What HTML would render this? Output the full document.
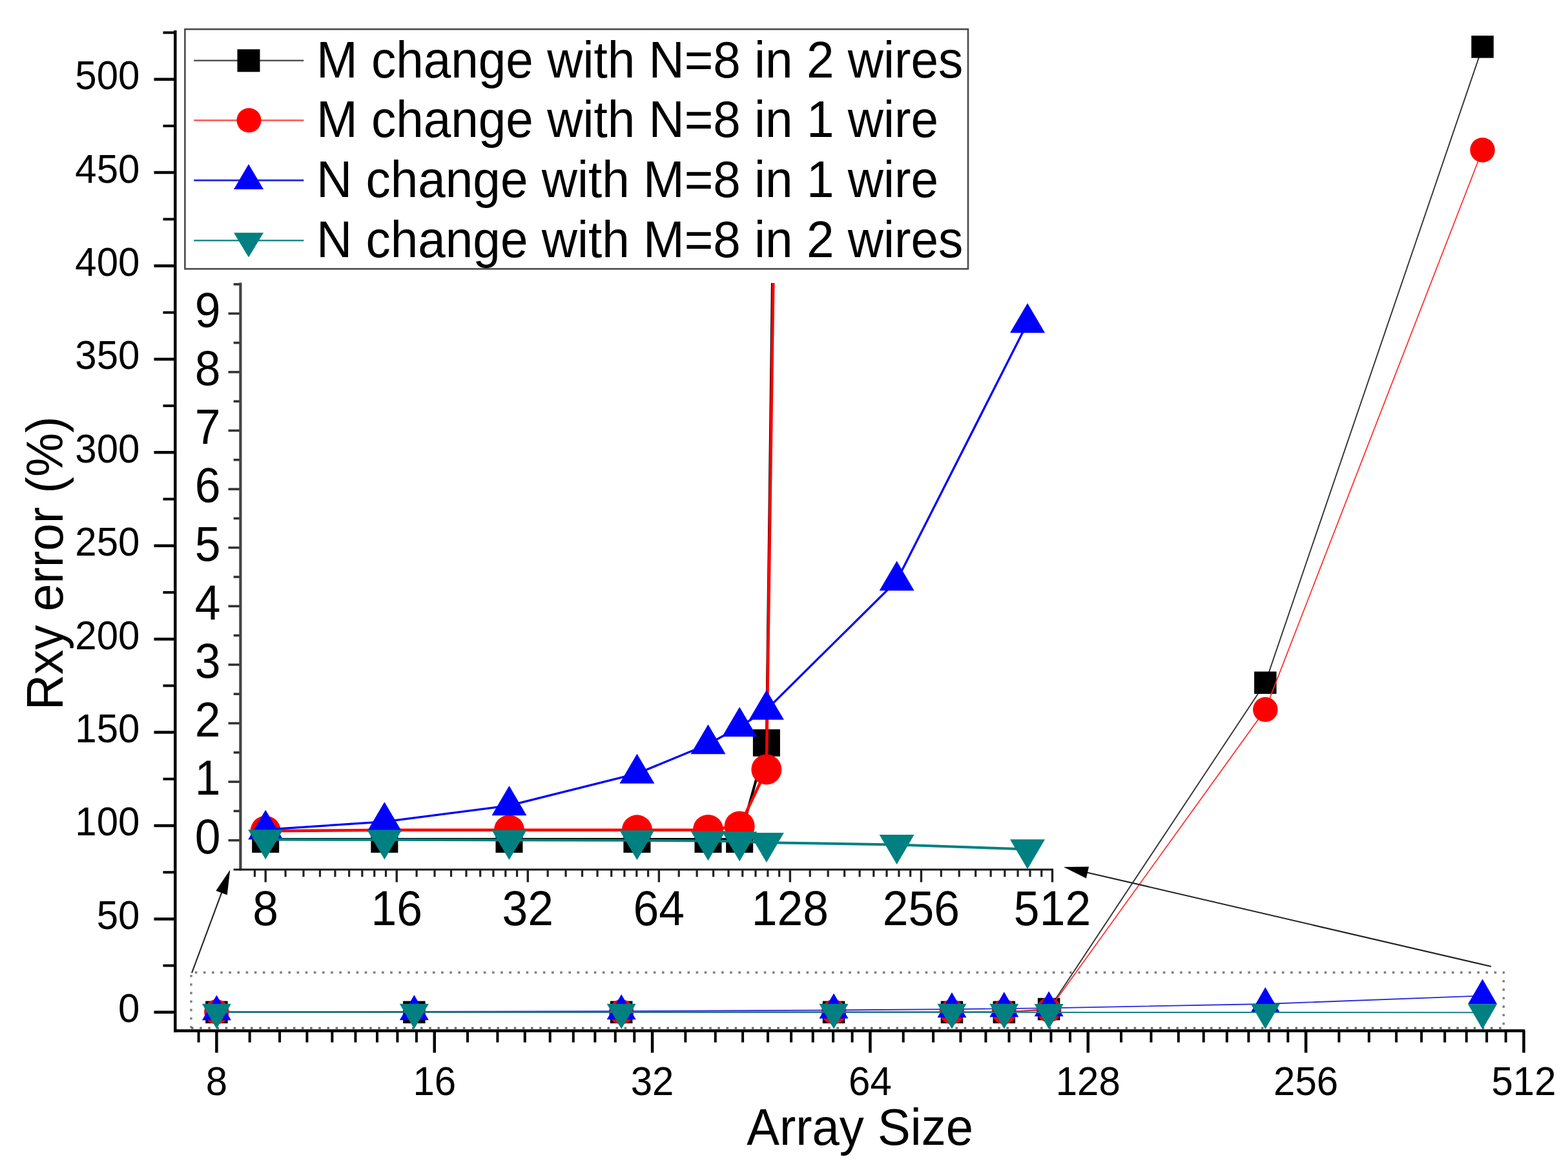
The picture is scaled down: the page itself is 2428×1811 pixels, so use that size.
<!DOCTYPE html>
<html><head><meta charset="utf-8"><title>Rxy error vs Array Size</title>
<style>html,body{margin:0;padding:0;background:#fff;}body{width:2428px;height:1811px;overflow:hidden;}svg{display:block;}text{font-family:"Liberation Sans", Arial, sans-serif;fill:#000;}</style>
</head><body>
<svg width="2428" height="1811" viewBox="0 0 2428 1811">
<rect width="2428" height="1811" fill="#fff"/>
<defs><clipPath id="ic"><rect x="374" y="438" width="1258" height="906"/></clipPath></defs>
<line x1="238.5" y1="1566.8" x2="271.3" y2="1566.8" stroke="#000" stroke-width="4.5"/>
<line x1="238.5" y1="1422.39" x2="271.3" y2="1422.39" stroke="#000" stroke-width="4.5"/>
<line x1="238.5" y1="1277.98" x2="271.3" y2="1277.98" stroke="#000" stroke-width="4.5"/>
<line x1="238.5" y1="1133.57" x2="271.3" y2="1133.57" stroke="#000" stroke-width="4.5"/>
<line x1="238.5" y1="989.16" x2="271.3" y2="989.16" stroke="#000" stroke-width="4.5"/>
<line x1="238.5" y1="844.75" x2="271.3" y2="844.75" stroke="#000" stroke-width="4.5"/>
<line x1="238.5" y1="700.34" x2="271.3" y2="700.34" stroke="#000" stroke-width="4.5"/>
<line x1="238.5" y1="555.93" x2="271.3" y2="555.93" stroke="#000" stroke-width="4.5"/>
<line x1="238.5" y1="411.52" x2="271.3" y2="411.52" stroke="#000" stroke-width="4.5"/>
<line x1="238.5" y1="267.11" x2="271.3" y2="267.11" stroke="#000" stroke-width="4.5"/>
<line x1="238.5" y1="122.7" x2="271.3" y2="122.7" stroke="#000" stroke-width="4.5"/>
<line x1="252.5" y1="1494.6" x2="271.3" y2="1494.6" stroke="#000" stroke-width="4"/>
<line x1="252.5" y1="1350.18" x2="271.3" y2="1350.18" stroke="#000" stroke-width="4"/>
<line x1="252.5" y1="1205.78" x2="271.3" y2="1205.78" stroke="#000" stroke-width="4"/>
<line x1="252.5" y1="1061.37" x2="271.3" y2="1061.37" stroke="#000" stroke-width="4"/>
<line x1="252.5" y1="916.95" x2="271.3" y2="916.95" stroke="#000" stroke-width="4"/>
<line x1="252.5" y1="772.54" x2="271.3" y2="772.54" stroke="#000" stroke-width="4"/>
<line x1="252.5" y1="628.13" x2="271.3" y2="628.13" stroke="#000" stroke-width="4"/>
<line x1="252.5" y1="483.72" x2="271.3" y2="483.72" stroke="#000" stroke-width="4"/>
<line x1="252.5" y1="339.32" x2="271.3" y2="339.32" stroke="#000" stroke-width="4"/>
<line x1="252.5" y1="194.9" x2="271.3" y2="194.9" stroke="#000" stroke-width="4"/>
<line x1="252.5" y1="50.5" x2="271.3" y2="50.5" stroke="#000" stroke-width="4"/>
<line x1="335.4" y1="1595.5" x2="335.4" y2="1629.5" stroke="#000" stroke-width="4.5"/>
<line x1="672.75" y1="1595.5" x2="672.75" y2="1629.5" stroke="#000" stroke-width="4.5"/>
<line x1="1010.1" y1="1595.5" x2="1010.1" y2="1629.5" stroke="#000" stroke-width="4.5"/>
<line x1="1347.45" y1="1595.5" x2="1347.45" y2="1629.5" stroke="#000" stroke-width="4.5"/>
<line x1="1684.8" y1="1595.5" x2="1684.8" y2="1629.5" stroke="#000" stroke-width="4.5"/>
<line x1="2022.15" y1="1595.5" x2="2022.15" y2="1629.5" stroke="#000" stroke-width="4.5"/>
<line x1="2359.5" y1="1595.5" x2="2359.5" y2="1629.5" stroke="#000" stroke-width="4.5"/>
<line x1="307.58" y1="1595.5" x2="307.58" y2="1613.5" stroke="#000" stroke-width="4"/>
<line x1="386.68" y1="1595.5" x2="386.68" y2="1613.5" stroke="#000" stroke-width="4"/>
<line x1="433.07" y1="1595.5" x2="433.07" y2="1613.5" stroke="#000" stroke-width="4"/>
<line x1="475.41" y1="1595.5" x2="475.41" y2="1613.5" stroke="#000" stroke-width="4"/>
<line x1="514.37" y1="1595.5" x2="514.37" y2="1613.5" stroke="#000" stroke-width="4"/>
<line x1="550.44" y1="1595.5" x2="550.44" y2="1613.5" stroke="#000" stroke-width="4"/>
<line x1="584.02" y1="1595.5" x2="584.02" y2="1613.5" stroke="#000" stroke-width="4"/>
<line x1="615.43" y1="1595.5" x2="615.43" y2="1613.5" stroke="#000" stroke-width="4"/>
<line x1="644.93" y1="1595.5" x2="644.93" y2="1613.5" stroke="#000" stroke-width="4"/>
<line x1="724.03" y1="1595.5" x2="724.03" y2="1613.5" stroke="#000" stroke-width="4"/>
<line x1="770.42" y1="1595.5" x2="770.42" y2="1613.5" stroke="#000" stroke-width="4"/>
<line x1="812.76" y1="1595.5" x2="812.76" y2="1613.5" stroke="#000" stroke-width="4"/>
<line x1="851.72" y1="1595.5" x2="851.72" y2="1613.5" stroke="#000" stroke-width="4"/>
<line x1="887.79" y1="1595.5" x2="887.79" y2="1613.5" stroke="#000" stroke-width="4"/>
<line x1="921.37" y1="1595.5" x2="921.37" y2="1613.5" stroke="#000" stroke-width="4"/>
<line x1="952.78" y1="1595.5" x2="952.78" y2="1613.5" stroke="#000" stroke-width="4"/>
<line x1="982.28" y1="1595.5" x2="982.28" y2="1613.5" stroke="#000" stroke-width="4"/>
<line x1="1061.38" y1="1595.5" x2="1061.38" y2="1613.5" stroke="#000" stroke-width="4"/>
<line x1="1107.77" y1="1595.5" x2="1107.77" y2="1613.5" stroke="#000" stroke-width="4"/>
<line x1="1150.11" y1="1595.5" x2="1150.11" y2="1613.5" stroke="#000" stroke-width="4"/>
<line x1="1189.07" y1="1595.5" x2="1189.07" y2="1613.5" stroke="#000" stroke-width="4"/>
<line x1="1225.14" y1="1595.5" x2="1225.14" y2="1613.5" stroke="#000" stroke-width="4"/>
<line x1="1258.72" y1="1595.5" x2="1258.72" y2="1613.5" stroke="#000" stroke-width="4"/>
<line x1="1290.13" y1="1595.5" x2="1290.13" y2="1613.5" stroke="#000" stroke-width="4"/>
<line x1="1319.63" y1="1595.5" x2="1319.63" y2="1613.5" stroke="#000" stroke-width="4"/>
<line x1="1398.73" y1="1595.5" x2="1398.73" y2="1613.5" stroke="#000" stroke-width="4"/>
<line x1="1445.12" y1="1595.5" x2="1445.12" y2="1613.5" stroke="#000" stroke-width="4"/>
<line x1="1487.46" y1="1595.5" x2="1487.46" y2="1613.5" stroke="#000" stroke-width="4"/>
<line x1="1526.42" y1="1595.5" x2="1526.42" y2="1613.5" stroke="#000" stroke-width="4"/>
<line x1="1562.49" y1="1595.5" x2="1562.49" y2="1613.5" stroke="#000" stroke-width="4"/>
<line x1="1596.07" y1="1595.5" x2="1596.07" y2="1613.5" stroke="#000" stroke-width="4"/>
<line x1="1627.48" y1="1595.5" x2="1627.48" y2="1613.5" stroke="#000" stroke-width="4"/>
<line x1="1656.98" y1="1595.5" x2="1656.98" y2="1613.5" stroke="#000" stroke-width="4"/>
<line x1="1736.08" y1="1595.5" x2="1736.08" y2="1613.5" stroke="#000" stroke-width="4"/>
<line x1="1782.47" y1="1595.5" x2="1782.47" y2="1613.5" stroke="#000" stroke-width="4"/>
<line x1="1824.81" y1="1595.5" x2="1824.81" y2="1613.5" stroke="#000" stroke-width="4"/>
<line x1="1863.77" y1="1595.5" x2="1863.77" y2="1613.5" stroke="#000" stroke-width="4"/>
<line x1="1899.84" y1="1595.5" x2="1899.84" y2="1613.5" stroke="#000" stroke-width="4"/>
<line x1="1933.42" y1="1595.5" x2="1933.42" y2="1613.5" stroke="#000" stroke-width="4"/>
<line x1="1964.83" y1="1595.5" x2="1964.83" y2="1613.5" stroke="#000" stroke-width="4"/>
<line x1="1994.33" y1="1595.5" x2="1994.33" y2="1613.5" stroke="#000" stroke-width="4"/>
<line x1="2073.43" y1="1595.5" x2="2073.43" y2="1613.5" stroke="#000" stroke-width="4"/>
<line x1="2119.82" y1="1595.5" x2="2119.82" y2="1613.5" stroke="#000" stroke-width="4"/>
<line x1="2162.16" y1="1595.5" x2="2162.16" y2="1613.5" stroke="#000" stroke-width="4"/>
<line x1="2201.12" y1="1595.5" x2="2201.12" y2="1613.5" stroke="#000" stroke-width="4"/>
<line x1="2237.19" y1="1595.5" x2="2237.19" y2="1613.5" stroke="#000" stroke-width="4"/>
<line x1="2270.77" y1="1595.5" x2="2270.77" y2="1613.5" stroke="#000" stroke-width="4"/>
<line x1="2302.18" y1="1595.5" x2="2302.18" y2="1613.5" stroke="#000" stroke-width="4"/>
<line x1="2331.68" y1="1595.5" x2="2331.68" y2="1613.5" stroke="#000" stroke-width="4"/>
<line x1="271.3" y1="47" x2="271.3" y2="1597.7" stroke="#000" stroke-width="4.5"/>
<line x1="269" y1="1595.5" x2="2361.3" y2="1595.5" stroke="#000" stroke-width="4.5"/>
<g font-size="60">
<text transform="translate(216.4 1582.2) scale(1 1.058)" text-anchor="end">0</text>
<text transform="translate(216.4 1437.79) scale(1 1.058)" text-anchor="end">50</text>
<text transform="translate(216.4 1293.38) scale(1 1.058)" text-anchor="end">100</text>
<text transform="translate(216.4 1148.97) scale(1 1.058)" text-anchor="end">150</text>
<text transform="translate(216.4 1004.56) scale(1 1.058)" text-anchor="end">200</text>
<text transform="translate(216.4 860.15) scale(1 1.058)" text-anchor="end">250</text>
<text transform="translate(216.4 715.74) scale(1 1.058)" text-anchor="end">300</text>
<text transform="translate(216.4 571.33) scale(1 1.058)" text-anchor="end">350</text>
<text transform="translate(216.4 426.92) scale(1 1.058)" text-anchor="end">400</text>
<text transform="translate(216.4 282.51) scale(1 1.058)" text-anchor="end">450</text>
<text transform="translate(216.4 138.1) scale(1 1.058)" text-anchor="end">500</text>
<text transform="translate(335.4 1695.2) scale(1 1.058)" text-anchor="middle">8</text>
<text transform="translate(672.75 1695.2) scale(1 1.058)" text-anchor="middle">16</text>
<text transform="translate(1010.1 1695.2) scale(1 1.058)" text-anchor="middle">32</text>
<text transform="translate(1347.45 1695.2) scale(1 1.058)" text-anchor="middle">64</text>
<text transform="translate(1684.8 1695.2) scale(1 1.058)" text-anchor="middle">128</text>
<text transform="translate(2022.15 1695.2) scale(1 1.058)" text-anchor="middle">256</text>
<text transform="translate(2359.5 1695.2) scale(1 1.058)" text-anchor="middle">512</text>
</g>
<text transform="translate(1331.6 1771.6) scale(1 1.04)" font-size="76.1" text-anchor="middle">Array Size</text>
<text transform="translate(96.7 871.8) rotate(-90) scale(1 1.035)" font-size="76.5" text-anchor="middle">Rxy error (%)</text>
<path d="M296 1591.5 V1505.2 H2328.3 V1591.5" fill="none" stroke="#808080" stroke-width="3.4" stroke-dasharray="3.6 9.55"/>
<path d="M296 1591.2 H2328.3" fill="none" stroke="#666" stroke-width="3" stroke-dasharray="3.6 9.55"/>
<polyline points="335.4,1566.74 641.34,1566.74 962.19,1566.74 1291.08,1566.74 1473.97,1566.74 1554.82,1566.74 1624.14,1561.99 1959.33,1056.74 2295.6,72.45" fill="none" stroke="#333" stroke-width="1.9" stroke-linejoin="round"/>
<rect x="318.15" y="1549.49" width="34.5" height="34.5" fill="#000000"/>
<rect x="624.09" y="1549.49" width="34.5" height="34.5" fill="#000000"/>
<rect x="944.94" y="1549.49" width="34.5" height="34.5" fill="#000000"/>
<rect x="1273.83" y="1549.49" width="34.5" height="34.5" fill="#000000"/>
<rect x="1456.72" y="1549.49" width="34.5" height="34.5" fill="#000000"/>
<rect x="1537.57" y="1549.49" width="34.5" height="34.5" fill="#000000"/>
<rect x="1606.89" y="1544.74" width="34.5" height="34.5" fill="#000000"/>
<rect x="1942.08" y="1039.49" width="34.5" height="34.5" fill="#000000"/>
<rect x="2278.35" y="55.2" width="34.5" height="34.5" fill="#000000"/>
<polyline points="335.4,1566.34 641.34,1566.29 962.19,1566.29 1291.08,1566.29 1473.97,1566.28 1554.82,1566.11 1624.14,1563.31 1959.33,1098.33 2295.6,232.16" fill="none" stroke="#ff2a2a" stroke-width="1.7" stroke-linejoin="round"/>
<circle cx="335.4" cy="1566.34" r="19.25" fill="#ff0000"/>
<circle cx="962.19" cy="1566.29" r="19.25" fill="#ff0000"/>
<circle cx="1291.08" cy="1566.29" r="19.25" fill="#ff0000"/>
<circle cx="1473.97" cy="1566.28" r="19.25" fill="#ff0000"/>
<circle cx="1554.82" cy="1566.11" r="19.25" fill="#ff0000"/>
<circle cx="1624.14" cy="1563.31" r="19.25" fill="#ff0000"/>
<circle cx="1959.33" cy="1098.33" r="19.25" fill="#ff0000"/>
<circle cx="2295.6" cy="232.16" r="19.25" fill="#ff0000"/>
<polyline points="335.4,1566.27 641.34,1565.88 962.19,1565.08 1291.08,1563.51 1473.97,1562.06 1554.82,1561.2 1624.14,1560.36 1959.33,1553.99 2295.6,1541.27" fill="none" stroke="#2a2ae0" stroke-width="1.8" stroke-linejoin="round"/>
<polygon points="335.4,1540.27 357.9,1579.27 312.9,1579.27" fill="#0000ff"/>
<polygon points="641.34,1539.88 663.84,1578.88 618.84,1578.88" fill="#0000ff"/>
<polygon points="962.19,1539.08 984.69,1578.08 939.69,1578.08" fill="#0000ff"/>
<polygon points="1291.08,1537.51 1313.58,1576.51 1268.58,1576.51" fill="#0000ff"/>
<polygon points="1473.97,1536.06 1496.47,1575.06 1451.47,1575.06" fill="#0000ff"/>
<polygon points="1554.82,1535.2 1577.32,1574.2 1532.32,1574.2" fill="#0000ff"/>
<polygon points="1624.14,1534.36 1646.64,1573.36 1601.64,1573.36" fill="#0000ff"/>
<polygon points="1959.33,1527.99 1981.83,1566.99 1936.83,1566.99" fill="#0000ff"/>
<polygon points="2295.6,1515.27 2318.1,1554.27 2273.1,1554.27" fill="#0000ff"/>
<polyline points="335.4,1566.77 641.34,1566.77 962.19,1566.79 1291.08,1566.8 1473.97,1566.83 1554.82,1566.86 1624.14,1566.92 1959.33,1567.01 2295.6,1567.24" fill="none" stroke="#1a7f8a" stroke-width="2" stroke-linejoin="round"/>
<polygon points="312.9,1553.77 357.9,1553.77 335.4,1592.77" fill="#008080"/>
<polygon points="618.84,1553.77 663.84,1553.77 641.34,1592.77" fill="#008080"/>
<polygon points="939.69,1553.79 984.69,1553.79 962.19,1592.79" fill="#008080"/>
<polygon points="1268.58,1553.8 1313.58,1553.8 1291.08,1592.8" fill="#008080"/>
<polygon points="1451.47,1553.83 1496.47,1553.83 1473.97,1592.83" fill="#008080"/>
<polygon points="1532.32,1553.86 1577.32,1553.86 1554.82,1592.86" fill="#008080"/>
<polygon points="1601.64,1553.92 1646.64,1553.92 1624.14,1592.92" fill="#008080"/>
<polygon points="1936.83,1554.01 1981.83,1554.01 1959.33,1593.01" fill="#008080"/>
<polygon points="2273.1,1554.24 2318.1,1554.24 2295.6,1593.24" fill="#008080"/>
<line x1="297" y1="1506" x2="343.77" y2="1380.05" stroke="#222" stroke-width="2.1"/><polygon points="356.3,1346.3 351.74,1385.14 334.4,1378.7" fill="#000"/>
<line x1="2309" y1="1496" x2="1682.06" y2="1350.16" stroke="#222" stroke-width="2.1"/><polygon points="1647,1342 1686.11,1341.6 1681.92,1359.62" fill="#000"/>
<line x1="353.5" y1="1300.7" x2="372.4" y2="1300.7" stroke="#333" stroke-width="3.6"/>
<line x1="353.5" y1="1210.1" x2="372.4" y2="1210.1" stroke="#333" stroke-width="3.6"/>
<line x1="353.5" y1="1119.5" x2="372.4" y2="1119.5" stroke="#333" stroke-width="3.6"/>
<line x1="353.5" y1="1028.9" x2="372.4" y2="1028.9" stroke="#333" stroke-width="3.6"/>
<line x1="353.5" y1="938.3" x2="372.4" y2="938.3" stroke="#333" stroke-width="3.6"/>
<line x1="353.5" y1="847.7" x2="372.4" y2="847.7" stroke="#333" stroke-width="3.6"/>
<line x1="353.5" y1="757.1" x2="372.4" y2="757.1" stroke="#333" stroke-width="3.6"/>
<line x1="353.5" y1="666.5" x2="372.4" y2="666.5" stroke="#333" stroke-width="3.6"/>
<line x1="353.5" y1="575.9" x2="372.4" y2="575.9" stroke="#333" stroke-width="3.6"/>
<line x1="353.5" y1="485.3" x2="372.4" y2="485.3" stroke="#333" stroke-width="3.6"/>
<line x1="361.7" y1="1255.4" x2="372.4" y2="1255.4" stroke="#333" stroke-width="3.6"/>
<line x1="361.7" y1="1164.8" x2="372.4" y2="1164.8" stroke="#333" stroke-width="3.6"/>
<line x1="361.7" y1="1074.2" x2="372.4" y2="1074.2" stroke="#333" stroke-width="3.6"/>
<line x1="361.7" y1="983.6" x2="372.4" y2="983.6" stroke="#333" stroke-width="3.6"/>
<line x1="361.7" y1="893" x2="372.4" y2="893" stroke="#333" stroke-width="3.6"/>
<line x1="361.7" y1="802.4" x2="372.4" y2="802.4" stroke="#333" stroke-width="3.6"/>
<line x1="361.7" y1="711.8" x2="372.4" y2="711.8" stroke="#333" stroke-width="3.6"/>
<line x1="361.7" y1="621.2" x2="372.4" y2="621.2" stroke="#333" stroke-width="3.6"/>
<line x1="361.7" y1="530.6" x2="372.4" y2="530.6" stroke="#333" stroke-width="3.6"/>
<line x1="361.7" y1="440" x2="372.4" y2="440" stroke="#333" stroke-width="3.6"/>
<line x1="411.2" y1="1346" x2="411.2" y2="1365.5" stroke="#222" stroke-width="3.4"/>
<line x1="614.25" y1="1346" x2="614.25" y2="1365.5" stroke="#222" stroke-width="3.4"/>
<line x1="817.3" y1="1346" x2="817.3" y2="1365.5" stroke="#222" stroke-width="3.4"/>
<line x1="1020.35" y1="1346" x2="1020.35" y2="1365.5" stroke="#222" stroke-width="3.4"/>
<line x1="1223.4" y1="1346" x2="1223.4" y2="1365.5" stroke="#222" stroke-width="3.4"/>
<line x1="1426.45" y1="1346" x2="1426.45" y2="1365.5" stroke="#222" stroke-width="3.4"/>
<line x1="1629.5" y1="1346" x2="1629.5" y2="1365.5" stroke="#222" stroke-width="3.4"/>
<line x1="394.46" y1="1346" x2="394.46" y2="1357.3" stroke="#222" stroke-width="3.2"/>
<line x1="442.06" y1="1346" x2="442.06" y2="1357.3" stroke="#222" stroke-width="3.2"/>
<line x1="469.98" y1="1346" x2="469.98" y2="1357.3" stroke="#222" stroke-width="3.2"/>
<line x1="495.47" y1="1346" x2="495.47" y2="1357.3" stroke="#222" stroke-width="3.2"/>
<line x1="518.92" y1="1346" x2="518.92" y2="1357.3" stroke="#222" stroke-width="3.2"/>
<line x1="540.63" y1="1346" x2="540.63" y2="1357.3" stroke="#222" stroke-width="3.2"/>
<line x1="560.84" y1="1346" x2="560.84" y2="1357.3" stroke="#222" stroke-width="3.2"/>
<line x1="579.75" y1="1346" x2="579.75" y2="1357.3" stroke="#222" stroke-width="3.2"/>
<line x1="597.51" y1="1346" x2="597.51" y2="1357.3" stroke="#222" stroke-width="3.2"/>
<line x1="645.11" y1="1346" x2="645.11" y2="1357.3" stroke="#222" stroke-width="3.2"/>
<line x1="673.03" y1="1346" x2="673.03" y2="1357.3" stroke="#222" stroke-width="3.2"/>
<line x1="698.52" y1="1346" x2="698.52" y2="1357.3" stroke="#222" stroke-width="3.2"/>
<line x1="721.97" y1="1346" x2="721.97" y2="1357.3" stroke="#222" stroke-width="3.2"/>
<line x1="743.68" y1="1346" x2="743.68" y2="1357.3" stroke="#222" stroke-width="3.2"/>
<line x1="763.89" y1="1346" x2="763.89" y2="1357.3" stroke="#222" stroke-width="3.2"/>
<line x1="782.8" y1="1346" x2="782.8" y2="1357.3" stroke="#222" stroke-width="3.2"/>
<line x1="800.56" y1="1346" x2="800.56" y2="1357.3" stroke="#222" stroke-width="3.2"/>
<line x1="848.16" y1="1346" x2="848.16" y2="1357.3" stroke="#222" stroke-width="3.2"/>
<line x1="876.08" y1="1346" x2="876.08" y2="1357.3" stroke="#222" stroke-width="3.2"/>
<line x1="901.57" y1="1346" x2="901.57" y2="1357.3" stroke="#222" stroke-width="3.2"/>
<line x1="925.02" y1="1346" x2="925.02" y2="1357.3" stroke="#222" stroke-width="3.2"/>
<line x1="946.73" y1="1346" x2="946.73" y2="1357.3" stroke="#222" stroke-width="3.2"/>
<line x1="966.94" y1="1346" x2="966.94" y2="1357.3" stroke="#222" stroke-width="3.2"/>
<line x1="985.85" y1="1346" x2="985.85" y2="1357.3" stroke="#222" stroke-width="3.2"/>
<line x1="1003.61" y1="1346" x2="1003.61" y2="1357.3" stroke="#222" stroke-width="3.2"/>
<line x1="1051.21" y1="1346" x2="1051.21" y2="1357.3" stroke="#222" stroke-width="3.2"/>
<line x1="1079.13" y1="1346" x2="1079.13" y2="1357.3" stroke="#222" stroke-width="3.2"/>
<line x1="1104.62" y1="1346" x2="1104.62" y2="1357.3" stroke="#222" stroke-width="3.2"/>
<line x1="1128.07" y1="1346" x2="1128.07" y2="1357.3" stroke="#222" stroke-width="3.2"/>
<line x1="1149.78" y1="1346" x2="1149.78" y2="1357.3" stroke="#222" stroke-width="3.2"/>
<line x1="1169.99" y1="1346" x2="1169.99" y2="1357.3" stroke="#222" stroke-width="3.2"/>
<line x1="1188.9" y1="1346" x2="1188.9" y2="1357.3" stroke="#222" stroke-width="3.2"/>
<line x1="1206.66" y1="1346" x2="1206.66" y2="1357.3" stroke="#222" stroke-width="3.2"/>
<line x1="1254.26" y1="1346" x2="1254.26" y2="1357.3" stroke="#222" stroke-width="3.2"/>
<line x1="1282.18" y1="1346" x2="1282.18" y2="1357.3" stroke="#222" stroke-width="3.2"/>
<line x1="1307.67" y1="1346" x2="1307.67" y2="1357.3" stroke="#222" stroke-width="3.2"/>
<line x1="1331.12" y1="1346" x2="1331.12" y2="1357.3" stroke="#222" stroke-width="3.2"/>
<line x1="1352.83" y1="1346" x2="1352.83" y2="1357.3" stroke="#222" stroke-width="3.2"/>
<line x1="1373.04" y1="1346" x2="1373.04" y2="1357.3" stroke="#222" stroke-width="3.2"/>
<line x1="1391.95" y1="1346" x2="1391.95" y2="1357.3" stroke="#222" stroke-width="3.2"/>
<line x1="1409.71" y1="1346" x2="1409.71" y2="1357.3" stroke="#222" stroke-width="3.2"/>
<line x1="1457.31" y1="1346" x2="1457.31" y2="1357.3" stroke="#222" stroke-width="3.2"/>
<line x1="1485.23" y1="1346" x2="1485.23" y2="1357.3" stroke="#222" stroke-width="3.2"/>
<line x1="1510.72" y1="1346" x2="1510.72" y2="1357.3" stroke="#222" stroke-width="3.2"/>
<line x1="1534.17" y1="1346" x2="1534.17" y2="1357.3" stroke="#222" stroke-width="3.2"/>
<line x1="1555.88" y1="1346" x2="1555.88" y2="1357.3" stroke="#222" stroke-width="3.2"/>
<line x1="1576.09" y1="1346" x2="1576.09" y2="1357.3" stroke="#222" stroke-width="3.2"/>
<line x1="1595" y1="1346" x2="1595" y2="1357.3" stroke="#222" stroke-width="3.2"/>
<line x1="1612.76" y1="1346" x2="1612.76" y2="1357.3" stroke="#222" stroke-width="3.2"/>
<line x1="372.4" y1="437.5" x2="372.4" y2="1347.5" stroke="#444" stroke-width="4.2"/>
<line x1="361.7" y1="1346" x2="1631" y2="1346" stroke="#1a1a1a" stroke-width="3"/>
<g font-size="71.5">
<text transform="translate(341.5 1320.9) scale(1 1.055)" text-anchor="end">0</text>
<text transform="translate(341.5 1230.3) scale(1 1.055)" text-anchor="end">1</text>
<text transform="translate(341.5 1139.7) scale(1 1.055)" text-anchor="end">2</text>
<text transform="translate(341.5 1049.1) scale(1 1.055)" text-anchor="end">3</text>
<text transform="translate(341.5 958.5) scale(1 1.055)" text-anchor="end">4</text>
<text transform="translate(341.5 867.9) scale(1 1.055)" text-anchor="end">5</text>
<text transform="translate(341.5 777.3) scale(1 1.055)" text-anchor="end">6</text>
<text transform="translate(341.5 686.7) scale(1 1.055)" text-anchor="end">7</text>
<text transform="translate(341.5 596.1) scale(1 1.055)" text-anchor="end">8</text>
<text transform="translate(341.5 505.5) scale(1 1.055)" text-anchor="end">9</text>
<text transform="translate(411.2 1431.5) scale(1 1.055)" text-anchor="middle">8</text>
<text transform="translate(614.25 1431.5) scale(1 1.055)" text-anchor="middle">16</text>
<text transform="translate(817.3 1431.5) scale(1 1.055)" text-anchor="middle">32</text>
<text transform="translate(1020.35 1431.5) scale(1 1.055)" text-anchor="middle">64</text>
<text transform="translate(1223.4 1431.5) scale(1 1.055)" text-anchor="middle">128</text>
<text transform="translate(1426.45 1431.5) scale(1 1.055)" text-anchor="middle">256</text>
<text transform="translate(1629.5 1431.5) scale(1 1.055)" text-anchor="middle">512</text>
</g>
<polyline points="411.2,1298.89 595.34,1298.89 788.46,1298.89 986.42,1298.89 1096.5,1298.89 1145.17,1298.89 1186.89,1149.85 1388.64,-14699.26 1591.04,-45575.74" fill="none" stroke="#000000" stroke-width="4" stroke-linejoin="round" clip-path="url(#ic)"/>
<rect x="390.2" y="1277.89" width="42" height="42" fill="#000000"/>
<rect x="574.34" y="1277.89" width="42" height="42" fill="#000000"/>
<rect x="767.46" y="1277.89" width="42" height="42" fill="#000000"/>
<rect x="965.42" y="1277.89" width="42" height="42" fill="#000000"/>
<rect x="1075.5" y="1277.89" width="42" height="42" fill="#000000"/>
<rect x="1124.17" y="1277.89" width="42" height="42" fill="#000000"/>
<rect x="1165.89" y="1128.85" width="42" height="42" fill="#000000"/>
<polyline points="411.2,1286.2 595.34,1284.85 788.46,1284.85 986.42,1284.85 1096.5,1284.39 1145.17,1278.96 1186.89,1191.07 1388.64,-13394.62 1591.04,-40565.56" fill="none" stroke="#ff0000" stroke-width="4.5" stroke-linejoin="round" clip-path="url(#ic)"/>
<circle cx="411.2" cy="1286.2" r="23.5" fill="#ff0000"/>
<circle cx="788.46" cy="1284.85" r="23.5" fill="#ff0000"/>
<circle cx="986.42" cy="1284.85" r="23.5" fill="#ff0000"/>
<circle cx="1096.5" cy="1284.39" r="23.5" fill="#ff0000"/>
<circle cx="1145.17" cy="1278.96" r="23.5" fill="#ff0000"/>
<circle cx="1186.89" cy="1191.07" r="23.5" fill="#ff0000"/>
<polyline points="411.2,1284.12 595.34,1271.89 788.46,1246.88 986.42,1197.42 1096.5,1152.03 1145.17,1125.03 1186.89,1098.57 1388.64,898.8 1591.04,499.8" fill="none" stroke="#0000ff" stroke-width="3.3" stroke-linejoin="round"/>
<polygon points="411.2,1253.45 438.2,1299.45 384.2,1299.45" fill="#0000ff"/>
<polygon points="595.34,1241.22 622.34,1287.22 568.34,1287.22" fill="#0000ff"/>
<polygon points="788.46,1216.22 815.46,1262.22 761.46,1262.22" fill="#0000ff"/>
<polygon points="986.42,1166.75 1013.42,1212.75 959.42,1212.75" fill="#0000ff"/>
<polygon points="1096.5,1121.36 1123.5,1167.36 1069.5,1167.36" fill="#0000ff"/>
<polygon points="1145.17,1094.36 1172.17,1140.36 1118.17,1140.36" fill="#0000ff"/>
<polygon points="1186.89,1067.9 1213.89,1113.9 1159.89,1113.9" fill="#0000ff"/>
<polygon points="1388.64,868.13 1415.64,914.13 1361.64,914.13" fill="#0000ff"/>
<polygon points="1591.04,469.13 1618.04,515.13 1564.04,515.13" fill="#0000ff"/>
<polyline points="411.2,1299.61 595.34,1299.79 788.46,1300.25 986.42,1300.7 1096.5,1301.61 1145.17,1302.51 1186.89,1304.32 1388.64,1307.4 1591.04,1314.56" fill="none" stroke="#008080" stroke-width="4" stroke-linejoin="round"/>
<polygon points="384.2,1284.28 438.2,1284.28 411.2,1330.28" fill="#008080"/>
<polygon points="568.34,1284.46 622.34,1284.46 595.34,1330.46" fill="#008080"/>
<polygon points="761.46,1284.91 815.46,1284.91 788.46,1330.91" fill="#008080"/>
<polygon points="959.42,1285.37 1013.42,1285.37 986.42,1331.37" fill="#008080"/>
<polygon points="1069.5,1286.27 1123.5,1286.27 1096.5,1332.27" fill="#008080"/>
<polygon points="1118.17,1287.18 1172.17,1287.18 1145.17,1333.18" fill="#008080"/>
<polygon points="1159.89,1288.99 1213.89,1288.99 1186.89,1334.99" fill="#008080"/>
<polygon points="1361.64,1292.07 1415.64,1292.07 1388.64,1338.07" fill="#008080"/>
<polygon points="1564.04,1299.23 1618.04,1299.23 1591.04,1345.23" fill="#008080"/>
<rect x="286.4" y="45.2" width="1212.6" height="371" fill="none" stroke="#4a4a4a" stroke-width="2.6"/>
<line x1="300.2" y1="93.8" x2="470.3" y2="93.8" stroke="#555" stroke-width="2.6"/>
<rect x="367.5" y="76.3" width="35" height="35" fill="#000000"/>
<text transform="translate(490 119.6) scale(1 1.05)" font-size="76.5">M change with N=8 in 2 wires</text>
<line x1="300.2" y1="186.3" x2="470.3" y2="186.3" stroke="#ff5555" stroke-width="2.6"/>
<circle cx="385.5" cy="186.3" r="19" fill="#ff0000"/>
<text transform="translate(490 212.1) scale(1 1.05)" font-size="76.5">M change with N=8 in 1 wire</text>
<line x1="300.2" y1="279.1" x2="470.3" y2="279.1" stroke="#2222dd" stroke-width="2.6"/>
<polygon points="385,254.1 408,293.1 362,293.1" fill="#0000ff"/>
<text transform="translate(490 304.9) scale(1 1.05)" font-size="76.5">N change with M=8 in 1 wire</text>
<line x1="300.2" y1="372.2" x2="470.3" y2="372.2" stroke="#1a8a8a" stroke-width="2.6"/>
<polygon points="362,360.23 408,360.23 385,398.23" fill="#008080"/>
<text transform="translate(490 398) scale(1 1.05)" font-size="76.5">N change with M=8 in 2 wires</text>
</svg>
</body></html>
